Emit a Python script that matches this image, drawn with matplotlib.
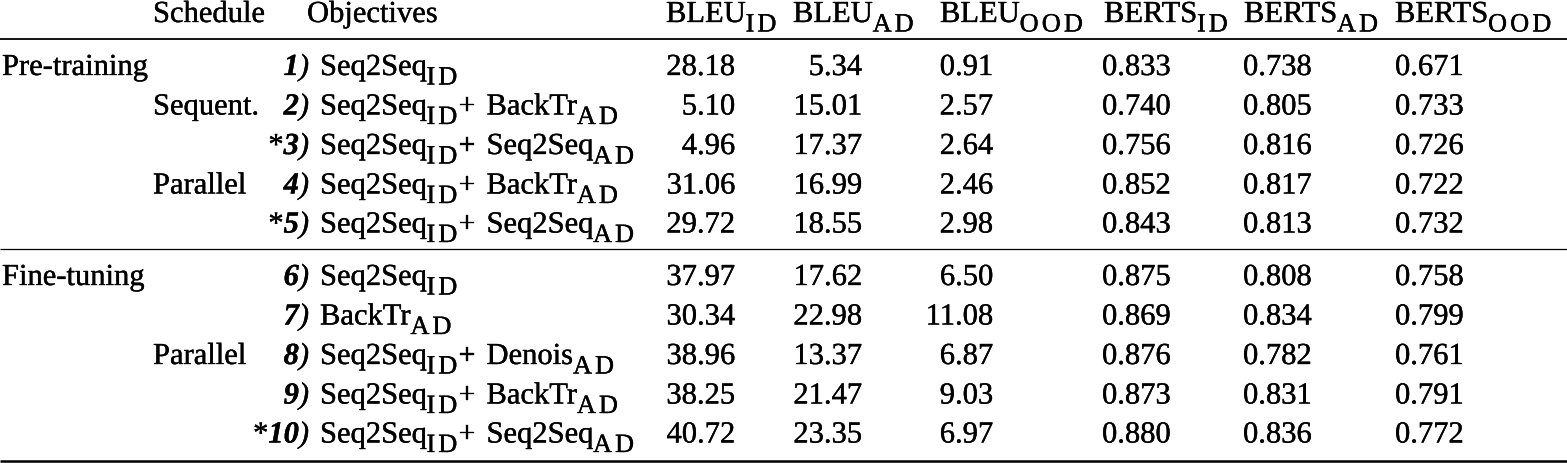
import matplotlib
matplotlib.use("Agg")
import matplotlib.pyplot as plt
import matplotlib.patheffects as pe

plt.rcParams['font.family'] = ['Liberation Serif', 'DejaVu Serif']

# table content
headers = [('BLEU', 'ID'), ('BLEU', 'AD'), ('BLEU', 'OOD'),
           ('BERTS', 'ID'), ('BERTS', 'AD'), ('BERTS', 'OOD')]
phases = ['Pre-training', 'Fine-tuning']
schedules = ['', 'Sequent.', '', 'Parallel', '', '', '', 'Parallel', '', '']
numbers = ['1', '2', '3', '4', '5', '6', '7', '8', '9', '10']
starred = [False, False, True, False, True, False, False, False, False, True]
objectives = [
    [('Seq2Seq', 'ID')],
    [('Seq2Seq', 'ID'), ('BackTr', 'AD')],
    [('Seq2Seq', 'ID'), ('Seq2Seq', 'AD')],
    [('Seq2Seq', 'ID'), ('BackTr', 'AD')],
    [('Seq2Seq', 'ID'), ('Seq2Seq', 'AD')],
    [('Seq2Seq', 'ID')],
    [('BackTr', 'AD')],
    [('Seq2Seq', 'ID'), ('Denois', 'AD')],
    [('Seq2Seq', 'ID'), ('BackTr', 'AD')],
    [('Seq2Seq', 'ID'), ('Seq2Seq', 'AD')],
]
bleu_id = [28.18, 5.10, 4.96, 31.06, 29.72, 37.97, 30.34, 38.96, 38.25, 40.72]
bleu_ad = [5.34, 15.01, 17.37, 16.99, 18.55, 17.62, 22.98, 13.37, 21.47, 23.35]
bleu_ood = [0.91, 2.57, 2.64, 2.46, 2.98, 6.50, 11.08, 6.87, 9.03, 6.97]
berts_id = [0.833, 0.740, 0.756, 0.852, 0.843, 0.875, 0.869, 0.876, 0.873, 0.880]
berts_ad = [0.738, 0.805, 0.816, 0.817, 0.813, 0.808, 0.834, 0.782, 0.831, 0.836]
berts_ood = [0.671, 0.733, 0.726, 0.722, 0.732, 0.758, 0.799, 0.761, 0.791, 0.772]

# layout (pixels)
W, H = 1567, 464
FS = 22
SUB_FS = 19
SUB_DROP = 9.5
SUB_GAP = 3
SPACE = 11
header_y = 23
row_y = [76, 115.5, 155, 194.5, 233.5, 286, 325.5, 365, 404.5, 443.5]
head_x = [666, 793, 940, 1104, 1244, 1395]
val_x = [735, 862, 993, 1102, 1243, 1395]
val_ha = ['right', 'right', 'right', 'left', 'left', 'left']

fig = plt.figure(figsize=(W / 100, H / 100), dpi=100)
ax = fig.add_axes([0, 0, 1, 1])
ax.set_xlim(0, W)
ax.set_ylim(H, 0)
ax.axis('off')
renderer = fig.canvas.get_renderer()

heavy = [pe.withStroke(linewidth=0.25, foreground='black')]
STYLES = {
    'rm': dict(fontsize=FS),
    'sub': dict(fontsize=SUB_FS),
    'bi': dict(fontsize=FS, fontweight='bold', fontstyle='italic'),
    'it': dict(fontsize=FS, fontstyle='italic'),
}


def txt(x, y, s, **kw):
    return ax.text(x, y, s, va='baseline', path_effects=heavy, **kw)


def draw_runs(x, y, runs, ha='left'):
    items = []
    for s, st in runs:
        if st == 'sp':
            items.append((None, SPACE))
        elif st == 'sub':
            for i, ch in enumerate(s):
                t = txt(0, y + SUB_DROP, ch, ha='left', **STYLES['sub'])
                items.append((t, SUB_GAP if i < len(s) - 1 else 1))
        else:
            t = txt(0, y, s, ha='left', **STYLES[st])
            items.append((t, 0))
    widths = [(t.get_window_extent(renderer).width if t is not None else 0) + g
              for t, g in items]
    cur = x if ha == 'left' else x - sum(widths)
    for (t, g), w in zip(items, widths):
        if t is not None:
            t.set_x(cur)
        cur += w


# header
txt(153, header_y, 'Schedule', fontsize=FS)
txt(307, header_y, 'Objectives', fontsize=FS)
for (name, sub), hx in zip(headers, head_x):
    draw_runs(hx, header_y, [(name, 'rm'), (sub, 'sub')])

# rules
ax.plot([0, W], [40, 40], color='black', lw=1.3, solid_capstyle='butt')
ax.plot([0, W], [250, 250], color='black', lw=0.9, solid_capstyle='butt')
ax.plot([0, W], [462, 462], color='black', lw=1.8, solid_capstyle='butt')

txt(2, row_y[0], phases[0], fontsize=FS)
txt(2, row_y[5], phases[1], fontsize=FS)

columns = [bleu_id, bleu_ad, bleu_ood, berts_id, berts_ad, berts_ood]
for i, y in enumerate(row_y):
    if schedules[i]:
        txt(153, y, schedules[i], fontsize=FS)
    marker = ([('*', 'rm')] if starred[i] else []) + [(numbers[i], 'bi'), (')', 'it')]
    draw_runs(309, y, marker, ha='right')
    runs = []
    for k, (name, sub) in enumerate(objectives[i]):
        if k > 0:
            runs += [('+', 'rm'), (' ', 'sp')]
        runs += [(name, 'rm'), (sub, 'sub')]
    draw_runs(320, y, runs)
    for c, (col, vx, ha) in enumerate(zip(columns, val_x, val_ha)):
        fmt = '{:.2f}' if c < 3 else '{:.3f}'
        txt(vx, y, fmt.format(col[i]), ha=ha, fontsize=FS)

fig.savefig('out.png', dpi=100)
